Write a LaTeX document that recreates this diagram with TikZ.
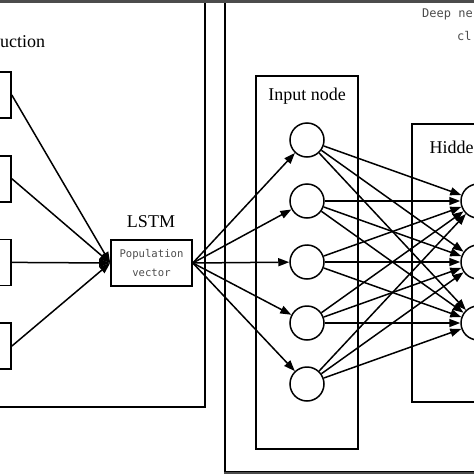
\documentclass[tikz,border=0pt]{standalone}
\usepackage{fontspec}
\setmainfont{Liberation Serif}
\newfontfamily\monofont{DejaVu Sans Mono}
\usetikzlibrary{arrows.meta}
\tikzstyle{frame} = [draw=black, line width=1.6pt]
\tikzstyle{block} = [rectangle, draw=black, line width=1.6pt, minimum height=46pt]
\tikzstyle{unit} = [circle, minimum size=34pt, inner sep=0pt, draw=black, line width=1.5pt]
\tikzstyle{title} = [font=\fontsize{18}{20}\selectfont, inner sep=0pt]
\tikzstyle{mono} = [font=\monofont\fontsize{10.6}{19}\selectfont, text=black!70, align=center]
\tikzstyle{arrow} = [line width=1.5pt, -{Triangle[length=11pt,width=8pt]}]

\begin{document}
\begin{tikzpicture}[x=1pt, y=1pt, node distance=61pt]

    \useasboundingbox (0,0) rectangle (474,-474);

    % frames
    \draw [frame] (-5,-1.5) rectangle (205,-407);
    \draw [frame] (225,-1.5) rectangle (490,-471.5);
    \draw [frame] (256,-76) rectangle (358,-449);
    \draw [frame] (412,-124) rectangle (490,-402);
    \fill [black!70] (0,0) rectangle (474,-2.5);
    \fill [black!70] (224,-472) rectangle (474,-474);

    % labels
    \node (ext) [title, anchor=west] at (0,-42) {uction};
    \node (lstm) [title] at (151,-222) {LSTM};
    \node (inlab) [title] at (307,-96) {Input node};
    \node (hidlab) [title, anchor=west] at (429.5,-147) {Hidde};
    \node (dnn1) [mono, font=\monofont\fontsize{12}{14}\selectfont, inner sep=0pt, anchor=west] at (422,-14) {Deep ne};
    \node (dnn2) [mono, font=\monofont\fontsize{12}{14}\selectfont, inner sep=0pt, anchor=west] at (457,-36) {cl};

    % feature boxes
    \node (f1) [block, minimum width=30pt] at (-4,-95) {};
    \node (f2) [block, minimum width=30pt, node distance=83.7pt, below of=f1] {};
    \node (f3) [block, minimum width=30pt, node distance=83.7pt, below of=f2] {};
    \node (f4) [block, minimum width=30pt, node distance=83.7pt, below of=f3] {};

    \node (pv) [block, mono, minimum width=81pt, inner sep=0pt] at (151.5,-263) {Population\\vector};

    % input layer
    \node (in1) [unit] at (307,-140) {};
    \node (in2) [unit, below of=in1] {};
    \node (in3) [unit, below of=in2] {};
    \node (in4) [unit, below of=in3] {};
    \node (in5) [unit, below of=in4] {};

    % hidden layer
    \node (h1) [unit] at (478,-201) {};
    \node (h2) [unit, below of=h1] {};
    \node (h3) [unit, below of=h2] {};

    \draw [arrow] (f1.east) -- (pv.west);
    \draw [arrow] (f2.east) -- (pv.west);
    \draw [arrow] (f3.east) -- (pv.west);
    \draw [arrow] (f4.east) -- (pv.west);

    \draw [arrow] (pv.east) -- (in1);
    \draw [arrow] (pv.east) -- (in2);
    \draw [arrow] (pv.east) -- (in3);
    \draw [arrow] (pv.east) -- (in4);
    \draw [arrow] (pv.east) -- (in5);

    \foreach \i in {1,...,5}
        \foreach \j in {1,2,3}
            \draw [arrow] (in\i) -- (h\j);

\end{tikzpicture}
\end{document}
